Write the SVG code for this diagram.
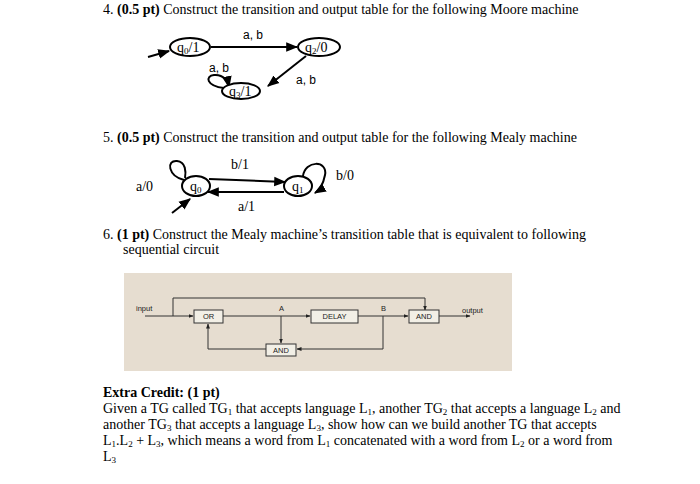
<svg xmlns="http://www.w3.org/2000/svg" width="700" height="484" viewBox="0 0 700 484">
<defs>
<marker id="ah" viewBox="0 0 10 10" refX="9" refY="5" markerWidth="6" markerHeight="6" orient="auto"><path d="M0,1 L10,5 L0,9 z" fill="#000"/></marker>
<marker id="sa" viewBox="0 0 10 10" refX="9" refY="5" markerWidth="5" markerHeight="5" orient="auto"><path d="M0,1 L10,5 L0,9 z" fill="#222"/></marker>
</defs>
<style>
.t{font-family:"Liberation Serif",serif;font-size:14px;fill:#000}
.b{font-weight:bold}
.s{font-size:9px}
.st{fill:#fff;stroke:#000;stroke-width:2}
.e{fill:none;stroke:#000;stroke-width:2}
.sl{font-family:"Liberation Sans",sans-serif;font-size:12px}
.c{fill:none;stroke:#333;stroke-width:1}
.g{fill:#f2efe6;stroke:#333;stroke-width:1}
.gl{font-family:"Liberation Sans",sans-serif;font-size:7.5px;fill:#222}
</style>
<rect width="700" height="484" fill="#fff"/>
<text class="t" x="103" y="14">4.  <tspan class="b">(0.5 pt)</tspan> Construct the transition and output table for the following Moore machine</text>
<g id="connectors">
<line class="e" x1="148" y1="57" x2="169" y2="51" marker-end="url(#ah)"/>
<line class="e" x1="211" y1="47" x2="297" y2="47" marker-end="url(#ah)"/>
<line class="e" x1="306" y1="56" x2="268" y2="86" marker-end="url(#ah)"/>
<path class="e" d="M224,88 C206,86 205,76 214,75 C224,74 228,82 229,87" marker-end="url(#ah)"/>
<line class="e" x1="209" y1="179" x2="285" y2="182" marker-end="url(#ah)"/>
<line class="e" x1="284" y1="192" x2="208" y2="192" marker-end="url(#ah)"/>
<path class="e" d="M184,180 C168,176 166,160 177,161 C186,162 186,172 185,178"/>
<path class="e" d="M303,176 C305,160 328,160 325,175 C323,185 320,190 315,193" marker-end="url(#ah)"/>
<line class="e" x1="172" y1="213" x2="190" y2="199" marker-end="url(#ah)"/>
</g>
<g id="q0m"><ellipse class="st" cx="190" cy="47" rx="20" ry="9"/><text class="t" x="177" y="52">q<tspan class="s" dy="2">0</tspan><tspan dy="-2">/1</tspan></text></g>
<g id="q2m"><ellipse class="st" cx="319" cy="47" rx="21" ry="9"/><text class="t" x="305" y="52">q<tspan class="s" dy="2">2</tspan><tspan dy="-2">/0</tspan></text></g>
<g id="q3m"><ellipse class="st" cx="241" cy="91" rx="19" ry="8"/><text class="t" x="229" y="96">q<tspan class="s" dy="2">3</tspan><tspan dy="-2">/1</tspan></text></g>
<text class="sl" x="243" y="39">a, b</text>
<text class="sl" x="209" y="72">a, b</text>
<text class="sl" x="296" y="84">a, b</text>
<text class="t" x="103" y="142">5.  <tspan class="b">(0.5 pt)</tspan> Construct the transition and output table for the following Mealy machine</text>
<g id="q0"><ellipse class="st" cx="196" cy="186" rx="14" ry="10"/><text class="t" x="190" y="191">q<tspan class="s" dy="2">0</tspan></text></g>
<g id="q1"><ellipse class="st" cx="298" cy="186" rx="14" ry="10"/><text class="t" x="292" y="191">q<tspan class="s" dy="2">1</tspan></text></g>
<text class="t" x="231" y="169">b/1</text>
<text class="t" x="336" y="180">b/0</text>
<text class="t" x="136" y="191">a/0</text>
<text class="t" x="238" y="211">a/1</text>
<text class="t" x="103" y="239">6.  <tspan class="b">(1 pt)</tspan> Construct the Mealy machine’s transition table that is equivalent to following</text>
<text class="t" x="123" y="254">sequential circuit</text>
<rect x="124" y="273" width="388" height="98" fill="#e6ddd0"/>
<g id="circuit-connectors">
<line class="c" x1="145" y1="316" x2="193" y2="316" marker-end="url(#sa)"/>
<polyline class="c" points="173,316 173,298 425,298 425,310" marker-end="url(#sa)"/>
<line class="c" x1="223" y1="316" x2="310" y2="316" marker-end="url(#sa)"/>
<line class="c" x1="281" y1="316" x2="281" y2="343" marker-end="url(#sa)"/>
<line class="c" x1="358" y1="316" x2="408" y2="316" marker-end="url(#sa)"/>
<polyline class="c" points="383,316 383,349 297,349" marker-end="url(#sa)"/>
<polyline class="c" points="266,349 208,349 208,324" marker-end="url(#sa)"/>
<line class="c" x1="439" y1="316" x2="470" y2="316" marker-end="url(#sa)"/>
</g>
<g id="or"><rect class="g" x="194" y="310" width="29" height="13"/><text class="gl" x="208.5" y="319" text-anchor="middle">OR</text></g>
<g id="delay"><rect class="g" x="311" y="310" width="47" height="13"/><text class="gl" x="334.5" y="319" text-anchor="middle">DELAY</text></g>
<g id="and1"><rect class="g" x="409" y="310" width="30" height="13"/><text class="gl" x="424" y="319" text-anchor="middle">AND</text></g>
<g id="and2"><rect class="g" x="266" y="344" width="30" height="12"/><text class="gl" x="281" y="353" text-anchor="middle">AND</text></g>
<text class="gl" x="136" y="311">input</text>
<text class="gl" x="462" y="313">output</text>
<text class="gl" x="279" y="311">A</text>
<text class="gl" x="381" y="311">B</text>
<text class="t b" x="103" y="397">Extra Credit: (1 pt)</text>
<text class="t" x="103" y="413">Given a TG called TG<tspan class="s" dy="2">1</tspan><tspan dy="-2"> that accepts language L</tspan><tspan class="s" dy="2">1</tspan><tspan dy="-2">, another TG</tspan><tspan class="s" dy="2">2</tspan><tspan dy="-2"> that accepts a language L</tspan><tspan class="s" dy="2">2</tspan><tspan dy="-2"> and</tspan></text>
<text class="t" x="103" y="429">another TG<tspan class="s" dy="2">3</tspan><tspan dy="-2"> that accepts a language L</tspan><tspan class="s" dy="2">3</tspan><tspan dy="-2">, show how can we build another TG that accepts</tspan></text>
<text class="t" x="103" y="445">L<tspan class="s" dy="2">1</tspan><tspan dy="-2">.L</tspan><tspan class="s" dy="2">2</tspan><tspan dy="-2"> + L</tspan><tspan class="s" dy="2">3</tspan><tspan dy="-2">, which means a word from L</tspan><tspan class="s" dy="2">1</tspan><tspan dy="-2"> concatenated with a word from L</tspan><tspan class="s" dy="2">2</tspan><tspan dy="-2"> or a word from</tspan></text>
<text class="t" x="103" y="461">L<tspan class="s" dy="2">3</tspan></text>
</svg>
